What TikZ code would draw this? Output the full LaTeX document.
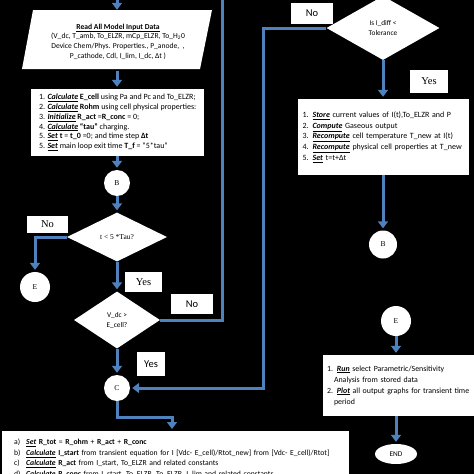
\documentclass[tikz,border=0pt]{standalone}
\usepackage{fontspec}
\setmainfont{Carlito}
\newfontfamily\tmsfont{Liberation Serif}
\usetikzlibrary{shapes.geometric,arrows.meta}
\definecolor{lineblue}{RGB}{79,129,189}
\newcommand\kw[1]{\underline{\textbf{\textit{#1}}}}
\begin{document}
\begin{tikzpicture}[x=1pt,y=-1pt,
    every node/.style={fill=white,inner sep=0pt,font=\fontsize{7.3}{10}\selectfont},
    txtbox/.style={rectangle,align=left,inner xsep=4pt},
    query/.style={diamond,align=center},
    joint/.style={circle,font=\tmsfont\fontsize{7.5}{9}\selectfont,minimum size=#1},
    joint/.default=26pt,
    tag/.style={rectangle,font=\fontsize{10.5}{12}\selectfont},
    serif tag/.style={rectangle,font=\tmsfont\fontsize{10.5}{12}\selectfont},
    link/.style={draw=lineblue,line width=3pt},
    flow/.style={link,-{Triangle[width=10pt,length=7pt]},shorten >=2pt}]
  \clip (0,0) rectangle (474,474);
  \fill[black] (0,0) rectangle (474,474);

  \fill[white] (33,10) -- (212,10) -- (200,69) -- (22,69) -- cycle;
  \node[fill=none,align=center,minimum height=59pt,font=\fontsize{7.6}{9.7}\selectfont] (read) at (118,41.5)
    {\underline{\textbf{Read All Model Input Data}}\\(V\_dc, T\_amb, To\_ELZR, mCp\_ELZR, To\_H\textsubscript{2}0\\Device Chem/Phys. Properties., P\_anode,\ \ ,\\P\_cathode, Cdl, I\_lim, I\_dc, Δt )};
  \node[txtbox,anchor=west,inner xsep=5pt,minimum width=173pt,minimum height=67pt,font=\fontsize{8}{9.8}\selectfont] (init) at (31,122.5)
    {1. \kw{Calculate} \textbf{E\_cell} using Pa and Pc and To\_ELZR;\\
     2. \kw{Calculate} \textbf{Rohm} using cell physical properties:\\
     3. \kw{Initialize} \textbf{R\_act} =\textbf{R\_conc} = 0;\\
     4. \kw{Calculate} \textbf{``tau''} charging.\\
     5. \kw{Set} \textbf{t} = \textbf{t\_0} =0; and time step \textbf{Δt}\\
     5. \kw{Set} main loop exit time \textbf{T\_f} = ``5*tau''};
  \node[joint] (b1) at (117,183) {B};
  \node[query,minimum width=100pt,minimum height=49pt,font=\tmsfont\fontsize{7.5}{9}\selectfont] (tcheck) at (117,237) {t < 5 *Tau?};
  \node[serif tag,minimum width=41pt,minimum height=17pt] (no1) at (47.5,224.5) {No};
  \node[joint=30pt] (e1) at (35,287) {E};
  \node[serif tag,minimum width=37pt,minimum height=20pt] (yes1) at (143.5,282) {Yes};
  \node[query,minimum width=86pt,minimum height=57pt] (vcheck) at (117,320) {V\_dc >\\E\_cell?};
  \node[tag,minimum width=42pt,minimum height=20pt] (no2) at (192,304) {No};
  \node[tag,minimum width=28pt,minimum height=24pt] (yes2) at (151,364) {Yes};
  \node[joint] (c) at (117,388) {C};
  \node[txtbox,anchor=north west,inner xsep=12pt,inner ysep=8pt,text width=323pt,font=\fontsize{7.7}{10.5}\selectfont] (solve) at (2,431)
    {\makebox[12pt][l]{a)}\kw{Set} \textbf{R\_tot} = \textbf{R\_ohm} + \textbf{R\_act} + \textbf{R\_conc}\\
     \makebox[12pt][l]{b)}\kw{Calculate} \textbf{I\_start} from transient equation for I [Vdc- E\_cell)/Rtot\_new] from [Vdc- E\_cell)/Rtot]\\
     \makebox[12pt][l]{c)}\kw{Calculate} \textbf{R\_act} from I\_start, To\_ELZR and related constants\\
     \makebox[12pt][l]{d)}\kw{Calculate} \textbf{R\_conc} from I\_start, To\_ELZR, To\_ELZR, I\_lim and related constants};

  \node[query,minimum width=113pt,minimum height=64pt] (icheck) at (383,28) {Is I\_diff <\\Tolerance};
  \node[tag,minimum width=42pt,minimum height=21pt] (no3) at (312,13) {No};
  \node[serif tag,minimum width=38pt,minimum height=23pt] (yes3) at (429,81.5) {Yes};
  \node[txtbox,inner xsep=5pt,minimum width=171pt,minimum height=76pt,text width=161pt,font=\fontsize{8}{10.7}\selectfont] (store) at (383,137)
    {1. \kw{Store} current values of I(t),To\_ELZR and P\\
     2. \kw{Compute} Gaseous output\\
     3. \kw{Recompute} cell temperature T\_new at I(t)\\
     4. \kw{Recompute} physical cell properties at T\_new\\
     5. \kw{Set} t=t+Δt};
  \node[joint=28pt] (b2) at (383,244.5) {B};
  \node[joint=30pt] (e2) at (396,321) {E};
  \node[txtbox,minimum width=157pt,minimum height=61pt,text width=149pt,font=\fontsize{7.9}{11}\selectfont] (post) at (401.5,385.5)
    {1. \kw{Run} select Parametric/Sensitivity\\
     \hspace*{7pt}Analysis from stored data\\
     2. \kw{Plot} all output graphs for transient time\\
     \hspace*{7pt}period};
  \node[ellipse,minimum width=42pt,minimum height=20pt] (stop) at (396,454) {END};

  \coordinate (feed) at (117,-12);
  \coordinate (back) at (222,-12);
  \coordinate (ret) at (263,388);
  \coordinate (turn) at (172,417);
  \draw[flow] (feed) -- (feed |- read.north);
  \draw[flow] (read.south -| feed) -- (feed |- init.north);
  \draw[flow] (init.south -| b1) -- (b1);
  \draw[flow] (b1) -- (tcheck);
  \draw[flow] (tcheck.west) -| (e1);
  \draw[flow] (tcheck) -- (vcheck);
  \draw[flow] (vcheck) -- (c);
  \draw[link] (vcheck.east) -| (back);
  \draw[flow] (icheck.west) -| (ret) -- (c);
  \draw[flow] (c) |- (turn) -- (turn |- solve.north);
  \draw[flow] (icheck) -- (store);
  \draw[flow] (store) -- (b2);
  \draw[flow] (e2) -- (e2 |- post.north);
  \draw[flow] (post.south -| stop) -- (stop);
\end{tikzpicture}
\end{document}
